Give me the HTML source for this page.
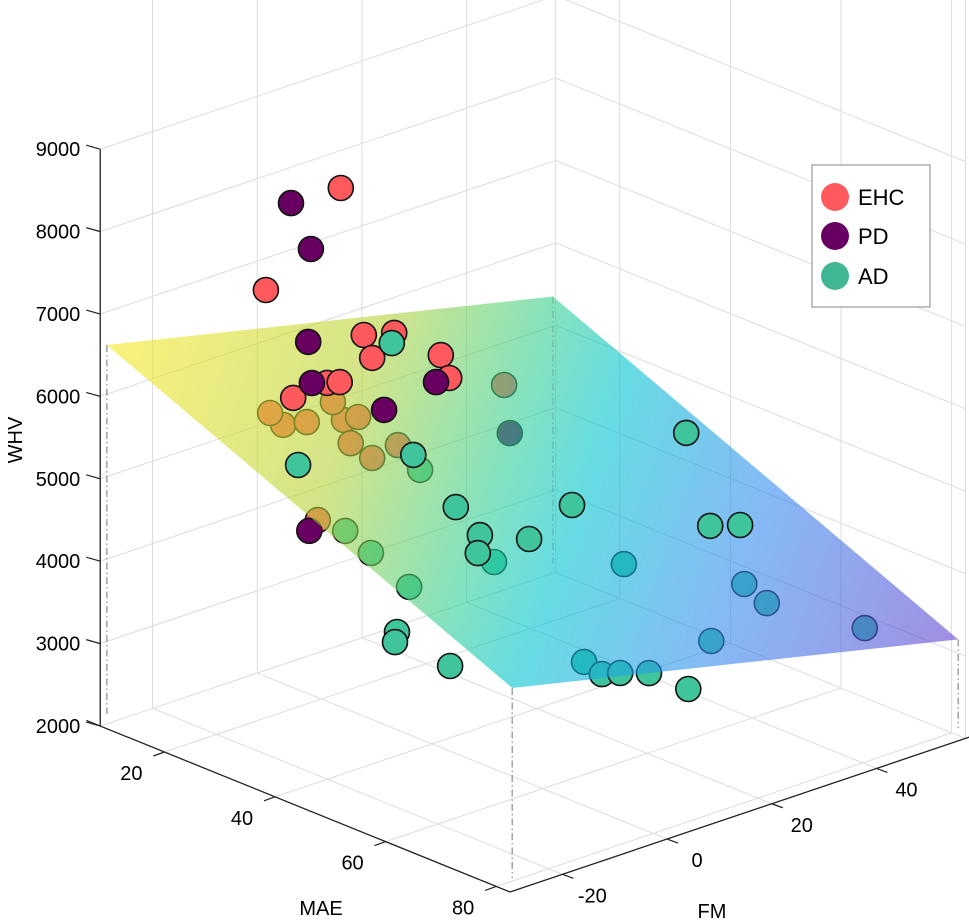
<!DOCTYPE html>
<html><head><meta charset="utf-8"><style>
html,body{margin:0;padding:0;background:#fff;}
svg{display:block;font-family:"Liberation Sans",Arial,sans-serif;}
</style></head><body>
<svg id="chart" width="969" height="923" viewBox="0 0 969 923" xmlns="http://www.w3.org/2000/svg">
<defs>
<linearGradient id="planeGrad" gradientUnits="userSpaceOnUse" x1="107" y1="345" x2="957" y2="643">
<stop offset="0" stop-color="#f8e921"/>
<stop offset="0.28" stop-color="#b6d239"/>
<stop offset="0.45" stop-color="#36cf90"/>
<stop offset="0.55" stop-color="#00c5cf"/>
<stop offset="0.75" stop-color="#358af0"/>
<stop offset="1" stop-color="#6143d2"/>
</linearGradient>
</defs>
<g id="grid"></g>
<g id="behind"></g>
<g id="plane"></g>
<g id="front"></g>
<g id="axes"></g>
<g>
<rect x="812" y="165" width="118" height="142" fill="#fff" stroke="#999" stroke-width="1.2"/>
<g><circle cx="835" cy="197" r="14" fill="#fe5a5e"/><text x="858" y="205" font-size="22">EHC</text></g>
<g><circle cx="835" cy="236" r="14" fill="#680062"/><text x="858" y="244" font-size="22">PD</text></g>
<g><circle cx="835" cy="276" r="14" fill="#3fb795"/><text x="858" y="284" font-size="22">AD</text></g>
</g>
<text transform="translate(22,440) rotate(-90)" text-anchor="middle" font-size="20">WHV</text>
<text x="321" y="915" text-anchor="middle" font-size="20">MAE</text>
<text x="712" y="918" text-anchor="middle" font-size="20">FM</text>
</svg>
<script>
const maeTicks = [20, 40, 60, 80];
const fmTicks = [-20, 0, 20, 40];
const whvTicks = [2000, 3000, 4000, 5000, 6000, 7000, 8000, 9000];
const ehcMAE = [20,20,20,20,20,20,20,20,20,20,20,20,20,20,20,20,20,20,20,20,20];
const ehcFM = [3.7,-10.6,8.1,13.9,9.7,22.8,24.4,34.9,1.1,4.3,-5.4,-7.3,7.0,2.2,5.6,9.7,14.6,-0.7,-9.8,-2.8,3.5];
const ehcWHV = [8123,7191,6244,6146,5932,5686,5374,5064,5813,5294,5770,5483,5273,5557,4985,4718,4769,4187,5682,5421,5772];
const pdMAE = [25,25,25,25,25,25,25,25];
const pdFM = [-11.1,-7.3,-7.8,-7.1,6.7,16.6,30.7,-7.6];
const pdWHV = [8393,7754,6637,6123,5501,5627,4706,4340];
const adMAE = [35,35,35,35,35,35,35,35,35,55,55,55,55,55,55,55,55,55,55,55,55,55,75,55,55,55,55,55,55];
const adFM = [-20.3,-2.4,1.7,3.0,-11.3,-6.4,0.9,-1.4,-1.8,-12.4,-11.3,-6.7,-7.1,-4.0,2.7,10.9,32.7,37.3,43.0,20.8,43.8,48.1,45.7,37.5,13.2,16.6,20.1,25.6,33.1];
const adWHV = [5683,6779,5334,5124,4691,4317,3749,3251,3138,3618,5523,5085,4875,4700,4836,5073,5481,4254,4143,4144,3410,3086,3377,2853,3119,2899,2837,2718,2365];
const planeMAE = [6.0, 79.3];
const planeFM = [-26.2, 59];
const planeCoef = [6477, -29.6, -14.5]; // WHV = c0 + c1*(MAE-6) + c2*(FM+26.2)

const M0 = 8.4, M1 = 82.5, F0 = -30, F1 = 57, W0 = 2000, W1 = 9000;
function P(m, f, w) {
  const x = 510 + (m - 82.5) * 5.53 + (f + 30) * 5.235;
  const y = 892 + (m - 82.5) * 2.24 - (f + 30) * 1.765 - (w - 2000) * 0.0824;
  return [x, y];
}
function planeW(m, f) { return planeCoef[0] + planeCoef[1] * (m - planeMAE[0]) + planeCoef[2] * (f - planeFM[0]); }
const NS = 'http://www.w3.org/2000/svg';
function mk(tag, parent, attrs) {
  const e = document.createElementNS(NS, tag);
  for (const k in attrs) e.setAttribute(k, attrs[k]);
  parent.appendChild(e);
  return e;
}
function line(parent, a, b, stroke, sw, dash) {
  const e = mk('line', parent, {x1: a[0], y1: a[1], x2: b[0], y2: b[1], stroke: stroke, 'stroke-width': sw});
  if (dash) e.setAttribute('stroke-dasharray', dash);
  return e;
}
const grid = document.getElementById('grid');
const gc = '#dcdcdc';
maeTicks.forEach(m => { const e = line(grid, P(m, F0, W0), P(m, F1, W0), gc, 1);

 });
fmTicks.forEach(f => { const e = line(grid, P(M0, f, W0), P(M1, f, W0), gc, 1);

 });
fmTicks.forEach(f => { const e = line(grid, P(M0, f, W0), P(M0, f, W1 + 2000), gc, 1);

 });
whvTicks.forEach(w => { const e = line(grid, P(M0, F0, w), P(M0, F1, w), gc, 1);

 });
maeTicks.forEach(m => { const e = line(grid, P(m, F1, W0), P(m, F1, W1 + 2000), gc, 1);

 });
whvTicks.forEach(w => { const e = line(grid, P(M0, F1, w), P(M1, F1, w), gc, 1);

 });
line(grid, P(M0, F1, W0), P(M0, F1, W1 + 2000), gc, 1);
line(grid, P(M1, F1, W0), P(M1, F1, W1 + 2000), gc, 1);
const plane = document.getElementById('plane');
const corners = [[planeMAE[0], planeFM[0]], [planeMAE[1], planeFM[0]], [planeMAE[1], planeFM[1]], [planeMAE[0], planeFM[1]]];
corners.forEach((c, i) => {
  const top = P(c[0], c[1], planeW(c[0], c[1]));
  const bot = P(c[0], c[1], W0);
  const e = line(grid, top, bot, i === 3 ? '#e0a0a0' : '#8c8c8c', 1.2, '7,3,1.5,3');
  
  
});
const pts = corners.map(c => P(c[0], c[1], planeW(c[0], c[1])).join(',')).join(' ');
const poly = mk('polygon', plane, {points: pts, fill: 'url(#planeGrad)', 'fill-opacity': '0.6'});


const behind = document.getElementById('behind'), front = document.getElementById('front');
function drawGroup(ms, fs, ws, color, name) {
  for (let i = 0; i < ms.length; i++) {
    const p = P(ms[i], fs[i], ws[i]);
    const inPlane = ms[i] >= planeMAE[0] && ms[i] <= planeMAE[1] && fs[i] >= planeFM[0] && fs[i] <= planeFM[1];
    const below = inPlane && ws[i] < planeW(ms[i], fs[i]);
    const c = mk('circle', below ? behind : front, {cx: p[0].toFixed(1), cy: p[1].toFixed(1), r: 12.5, fill: color, stroke: '#111', 'stroke-width': 1.6});
    
    
  }
}
drawGroup(ehcMAE, ehcFM, ehcWHV, '#fe5a5e', 'ehc-point');
drawGroup(pdMAE, pdFM, pdWHV, '#680062', 'pd-point');
drawGroup(adMAE, adFM, adWHV, '#3fc49c', 'ad-point');
const axes = document.getElementById('axes');
line(axes, P(M0, F0, W0), P(M0, F0, W1), '#222', 1.3);
line(axes, P(M0 - 2.5, F0, W0), P(M1, F0, W0), '#222', 1.3);
line(axes, P(M1, F0, W0), P(M1, F1 + 1, W0), '#222', 1.3);
whvTicks.forEach(w => {
  const a = P(M0, F0, w);
  line(axes, a, [a[0] - 14, a[1] - 4], '#222', 1.2);
  const t = mk('text', axes, {x: a[0] - 20, y: a[1] + 7, 'text-anchor': 'end', 'font-size': 20});
  t.textContent = w;
  
  
});
maeTicks.forEach(m => {
  const a = P(m, F0, W0);
  line(axes, a, [a[0] - 11, a[1] + 4], '#222', 1.2);
  const t = mk('text', axes, {x: a[0] - 33, y: a[1] + 28, 'text-anchor': 'middle', 'font-size': 20});
  t.textContent = m;
  
  
});
fmTicks.forEach(f => {
  const a = P(M1, f, W0);
  line(axes, a, [a[0] + 11, a[1] + 4], '#222', 1.2);
  const t = mk('text', axes, {x: a[0] + 30, y: a[1] + 28, 'text-anchor': 'middle', 'font-size': 20});
  t.textContent = f;
  
  
});
</script>
</body></html>
